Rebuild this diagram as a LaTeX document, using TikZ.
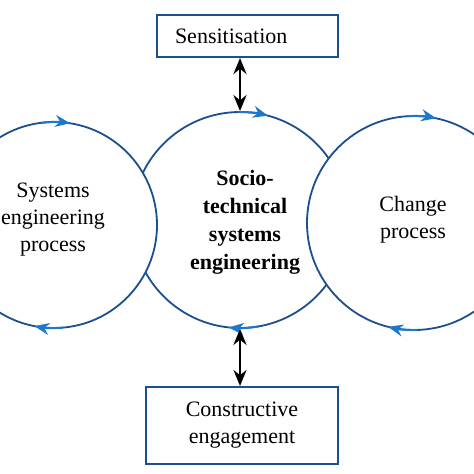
\documentclass[tikz,border=0pt]{standalone}
\usepackage{fontspec}
\setmainfont{Liberation Serif}
\usetikzlibrary{arrows.meta}
\definecolor{ringblue}{HTML}{1B4F8E}
\definecolor{tipblue}{HTML}{1C78CC}
\tikzset{
  ring/.style={circle, draw=ringblue, fill=white, line width=1.8pt, inner sep=0pt},
  box/.style={rectangle, draw=ringblue, fill=white, line width=2pt, inner sep=0pt},
  lbl/.style={align=center, font=\fontsize{22}{27}\selectfont},
  dbl/.style={{Stealth[length=16pt,width=13pt]}-{Stealth[length=16pt,width=13pt]}, line width=2.6pt, black},
  tip/.style={-{Stealth[length=15pt,width=12pt]}, tipblue, line width=2pt}
}
\begin{document}
\begin{tikzpicture}[x=1pt,y=-1pt]
\useasboundingbox (0,0) rectangle (474,474);
% circles: centre first, side ones on top
\node[ring, minimum size=216pt] (C) at (240,220) {};
\node[ring, minimum size=206pt] (L) at (54,225) {};
\node[ring, minimum size=214pt] (R) at (414,223) {};
% flow arrows on the circles (clockwise)
\draw[tip] ([shift={(-97:103)}]54,225) arc[start angle=-97, end angle=-81, radius=103];
\draw[tip] ([shift={(85:103)}]54,225) arc[start angle=85, end angle=101, radius=103];
\draw[tip] ([shift={(-91:108)}]240,220) arc[start angle=-91, end angle=-75, radius=108];
\draw[tip] ([shift={(80:108)}]240,220) arc[start angle=80, end angle=96, radius=108];
\draw[tip] ([shift={(-94:107)}]414,223) arc[start angle=-94, end angle=-78, radius=107];
\draw[tip] ([shift={(88:107)}]414,223) arc[start angle=88, end angle=104, radius=107];
% texts in the circles
\node[lbl] (Lt) at (53,220) {Systems\\engineering\\process};
\node[lbl, font=\bfseries\fontsize{22}{28}\selectfont] (Ct) at (245,222) {Socio-\\technical\\systems\\engineering};
\node[lbl] (Rt) at (413,220) {Change\\process};
% boxes
\node[box, minimum width=181pt, minimum height=42pt, text width=145pt, align=left, inner xsep=18pt, font=\fontsize{22}{27}\selectfont] (S) at (247.5,36) {Sensitisation};
\node[box, minimum width=192pt, minimum height=77pt, align=center, font=\fontsize{22}{27}\selectfont] (E) at (242,425.5) {Constructive\\engagement};
% double arrows
\draw[dbl] (C.north |- S.south) -- (C.north);
\draw[dbl] (C.south) -- (C.south |- E.north);
\end{tikzpicture}
\end{document}
